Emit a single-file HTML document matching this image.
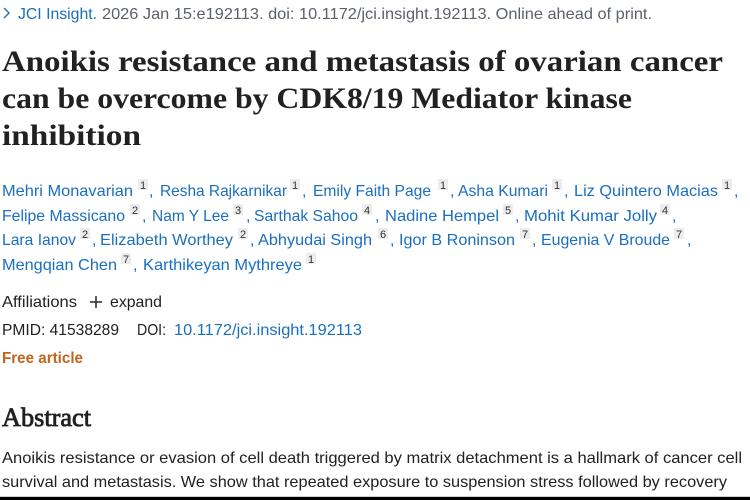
<!DOCTYPE html>
<html>
<head>
<meta charset="utf-8">
<style>
  html,body{margin:0;padding:0;background:#fff;}
  body{width:750px;height:500px;overflow:hidden;}
  svg{display:block;}
  .s{font-family:"Liberation Sans",sans-serif;font-size:16px;}
  .a{fill:#1a6fbf;}
  .sup{font-family:"Liberation Sans",sans-serif;font-size:11px;fill:#333;text-anchor:middle;}
  .bx{fill:#ececec;}
</style>
</head>
<body>
<svg width="750" height="500" viewBox="0 0 750 500" xmlns="http://www.w3.org/2000/svg">
  <rect width="750" height="500" fill="#fff"/>

  <!-- top citation line -->
  <polyline points="4,8 9,13 4,18" fill="none" stroke="#1a6fbf" stroke-width="1.4"/>
  <text class="s a" x="18" y="19" textLength="79" lengthAdjust="spacingAndGlyphs">JCI Insight.</text>
  <text class="s" x="102" y="19" fill="#5b616b" textLength="550" lengthAdjust="spacingAndGlyphs">2026 Jan 15:e192113. doi: 10.1172/jci.insight.192113. Online ahead of print.</text>

  <!-- title -->
  <g font-family="'Liberation Serif',serif" font-weight="bold" font-size="30" fill="#212121">
    <text x="2" y="71" textLength="721" lengthAdjust="spacingAndGlyphs">Anoikis resistance and metastasis of ovarian cancer</text>
    <text x="2" y="108" textLength="630" lengthAdjust="spacingAndGlyphs">can be overcome by CDK8/19 Mediator kinase</text>
    <text x="2" y="145" textLength="139" lengthAdjust="spacingAndGlyphs">inhibition</text>
  </g>

  <!-- authors line 1 (baseline 196) -->
  <g>
    <text class="s a" x="2" y="196" textLength="131" lengthAdjust="spacingAndGlyphs">Mehri Monavarian</text>
    <rect class="bx" x="138" y="179" width="10" height="11"/><text class="sup" x="143" y="189">1</text>
    <text class="s a" x="149" y="196">,</text>
    <text class="s a" x="160" y="196" textLength="127" lengthAdjust="spacingAndGlyphs">Resha Rajkarnikar</text>
    <rect class="bx" x="290" y="179" width="10" height="11"/><text class="sup" x="295" y="189">1</text>
    <text class="s a" x="302" y="196">,</text>
    <text class="s a" x="313" y="196" textLength="118" lengthAdjust="spacingAndGlyphs">Emily Faith Page</text>
    <rect class="bx" x="438" y="179" width="10" height="11"/><text class="sup" x="443" y="189">1</text>
    <text class="s a" x="450" y="196">,</text>
    <text class="s a" x="458" y="196" textLength="90" lengthAdjust="spacingAndGlyphs">Asha Kumari</text>
    <rect class="bx" x="552" y="179" width="10" height="11"/><text class="sup" x="557" y="189">1</text>
    <text class="s a" x="564" y="196">,</text>
    <text class="s a" x="574" y="196" textLength="144" lengthAdjust="spacingAndGlyphs">Liz Quintero Macias</text>
    <rect class="bx" x="722" y="179" width="10" height="11"/><text class="sup" x="727" y="189">1</text>
    <text class="s a" x="734" y="196">,</text>
  </g>

  <!-- authors line 2 (baseline 221) -->
  <g>
    <text class="s a" x="2" y="221" textLength="123" lengthAdjust="spacingAndGlyphs">Felipe Massicano</text>
    <rect class="bx" x="130" y="204" width="10" height="11"/><text class="sup" x="135" y="214">2</text>
    <text class="s a" x="142" y="221">,</text>
    <text class="s a" x="152" y="221" textLength="77" lengthAdjust="spacingAndGlyphs">Nam Y Lee</text>
    <rect class="bx" x="233" y="204" width="10" height="11"/><text class="sup" x="238" y="214">3</text>
    <text class="s a" x="246" y="221">,</text>
    <text class="s a" x="254" y="221" textLength="104" lengthAdjust="spacingAndGlyphs">Sarthak Sahoo</text>
    <rect class="bx" x="362" y="204" width="10" height="11"/><text class="sup" x="367" y="214">4</text>
    <text class="s a" x="375" y="221">,</text>
    <text class="s a" x="385" y="221" textLength="114" lengthAdjust="spacingAndGlyphs">Nadine Hempel</text>
    <rect class="bx" x="503" y="204" width="10" height="11"/><text class="sup" x="508" y="214">5</text>
    <text class="s a" x="515" y="221">,</text>
    <text class="s a" x="524" y="221" textLength="133" lengthAdjust="spacingAndGlyphs">Mohit Kumar Jolly</text>
    <rect class="bx" x="660" y="204" width="10" height="11"/><text class="sup" x="665" y="214">4</text>
    <text class="s a" x="672" y="221">,</text>
  </g>

  <!-- authors line 3 (baseline 245) -->
  <g>
    <text class="s a" x="2" y="245" textLength="74" lengthAdjust="spacingAndGlyphs">Lara Ianov</text>
    <rect class="bx" x="80" y="228" width="10" height="11"/><text class="sup" x="85" y="238">2</text>
    <text class="s a" x="92" y="245">,</text>
    <text class="s a" x="100" y="245" textLength="133" lengthAdjust="spacingAndGlyphs">Elizabeth Worthey</text>
    <rect class="bx" x="238" y="228" width="10" height="11"/><text class="sup" x="243" y="238">2</text>
    <text class="s a" x="250" y="245">,</text>
    <text class="s a" x="258" y="245" textLength="114" lengthAdjust="spacingAndGlyphs">Abhyudai Singh</text>
    <rect class="bx" x="378" y="228" width="10" height="11"/><text class="sup" x="383" y="238">6</text>
    <text class="s a" x="390" y="245">,</text>
    <text class="s a" x="399" y="245" textLength="116" lengthAdjust="spacingAndGlyphs">Igor B Roninson</text>
    <rect class="bx" x="520" y="228" width="10" height="11"/><text class="sup" x="525" y="238">7</text>
    <text class="s a" x="532" y="245">,</text>
    <text class="s a" x="541" y="245" textLength="129" lengthAdjust="spacingAndGlyphs">Eugenia V Broude</text>
    <rect class="bx" x="674" y="228" width="10" height="11"/><text class="sup" x="679" y="238">7</text>
    <text class="s a" x="687" y="245">,</text>
  </g>

  <!-- authors line 4 (baseline 270) -->
  <g>
    <text class="s a" x="2" y="270" textLength="115" lengthAdjust="spacingAndGlyphs">Mengqian Chen</text>
    <rect class="bx" x="121" y="253" width="10" height="11"/><text class="sup" x="126" y="263">7</text>
    <text class="s a" x="133" y="270">,</text>
    <text class="s a" x="143" y="270" textLength="159" lengthAdjust="spacingAndGlyphs">Karthikeyan Mythreye</text>
    <rect class="bx" x="306" y="253" width="10" height="11"/><text class="sup" x="311" y="263">1</text>
  </g>

  <!-- affiliations -->
  <text class="s" x="2" y="307" fill="#212121" textLength="75" lengthAdjust="spacingAndGlyphs">Affiliations</text>
  <line x1="90" y1="302" x2="102" y2="302" stroke="#333" stroke-width="1.6"/>
  <line x1="96" y1="296" x2="96" y2="308" stroke="#333" stroke-width="1.6"/>
  <text class="s" x="110" y="307" fill="#212121" textLength="52" lengthAdjust="spacingAndGlyphs">expand</text>

  <!-- PMID / DOI -->
  <text class="s" x="2" y="335" fill="#212121" textLength="117" lengthAdjust="spacingAndGlyphs">PMID: 41538289</text>
  <text class="s" x="137" y="335" fill="#212121" textLength="29" lengthAdjust="spacingAndGlyphs">DOI:</text>
  <text class="s a" x="174" y="335" textLength="188" lengthAdjust="spacingAndGlyphs">10.1172/jci.insight.192113</text>

  <!-- free article -->
  <text class="s" x="2" y="363" fill="#c0661f" font-weight="bold" textLength="81" lengthAdjust="spacingAndGlyphs">Free article</text>

  <!-- abstract heading -->
  <text x="2" y="426" font-family="'Liberation Serif',serif" font-size="26" fill="#212121" stroke="#212121" stroke-width="0.8" textLength="89" lengthAdjust="spacingAndGlyphs">Abstract</text>

  <!-- abstract text -->
  <text class="s" x="2" y="463" fill="#212121" textLength="740" lengthAdjust="spacingAndGlyphs">Anoikis resistance or evasion of cell death triggered by matrix detachment is a hallmark of cancer cell</text>
  <text class="s" x="2" y="487" fill="#212121" textLength="725" lengthAdjust="spacingAndGlyphs">survival and metastasis. We show that repeated exposure to suspension stress followed by recovery</text>

  <!-- bottom bars -->
  <rect x="0" y="496" width="750" height="1" fill="#cfcfcf"/>
  <rect x="0" y="497" width="750" height="3" fill="#000"/>
</svg>
</body>
</html>
